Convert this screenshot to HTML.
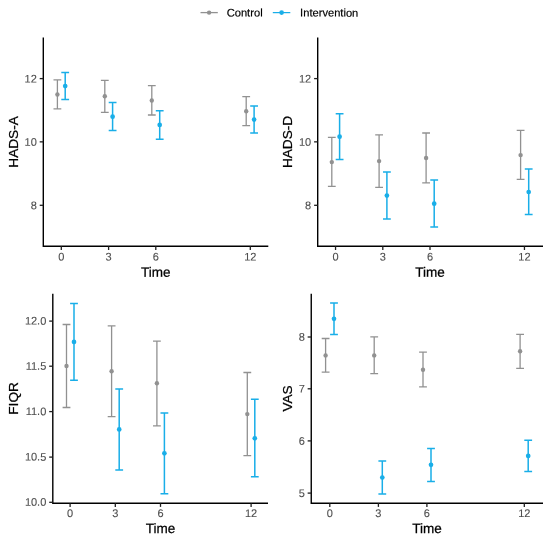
<!DOCTYPE html><html><head><meta charset="utf-8"><title>Figure</title><style>html,body{margin:0;padding:0;background:#fff}svg{display:block}text{font-family:"Liberation Sans",Arial,sans-serif}</style></head><body>
<svg width="550" height="539" viewBox="0 0 550 539">
<rect width="550" height="539" fill="#fff"/>
<line x1="200.5" y1="12.6" x2="217.8" y2="12.6" stroke="#919191" stroke-width="1.3"/><circle cx="209.1" cy="12.6" r="2.2" fill="#919191"/>
<text x="226.70" y="16.55" transform="rotate(0.1 226.70 16.55)" font-size="11.15" fill="#000" stroke="#000" stroke-width="0.18" text-anchor="start">Control</text>
<line x1="272.8" y1="12.6" x2="290.3" y2="12.6" stroke="#19AEE8" stroke-width="1.25"/><circle cx="281.6" cy="12.6" r="2.35" fill="#19AEE8"/>
<text x="300.10" y="16.55" transform="rotate(0.1 300.10 16.55)" font-size="11.15" fill="#000" stroke="#000" stroke-width="0.18" text-anchor="start">Intervention</text>
<g>
<path d="M53.5 79.9H61.3M53.5 108.9H61.3M57.4 79.9V108.9" stroke="#919191" stroke-width="1.3" fill="none"/><circle cx="57.4" cy="94.5" r="2.2" fill="#919191"/>
<path d="M100.9 80.3H108.7M100.9 112.3H108.7M104.8 80.3V112.3" stroke="#919191" stroke-width="1.3" fill="none"/><circle cx="104.8" cy="96.3" r="2.2" fill="#919191"/>
<path d="M147.9 85.7H155.7M147.9 115.0H155.7M151.8 85.7V115.0" stroke="#919191" stroke-width="1.3" fill="none"/><circle cx="151.8" cy="100.5" r="2.2" fill="#919191"/>
<path d="M242.3 96.7H250.1M242.3 125.7H250.1M246.2 96.7V125.7" stroke="#919191" stroke-width="1.3" fill="none"/><circle cx="246.2" cy="111.2" r="2.2" fill="#919191"/>
<path d="M61.3 72.4H69.1M61.3 99.6H69.1M65.2 72.4V99.6" stroke="#19AEE8" stroke-width="1.5" fill="none"/><circle cx="65.2" cy="86.1" r="2.35" fill="#19AEE8"/>
<path d="M108.7 102.5H116.5M108.7 130.5H116.5M112.6 102.5V130.5" stroke="#19AEE8" stroke-width="1.5" fill="none"/><circle cx="112.6" cy="116.7" r="2.35" fill="#19AEE8"/>
<path d="M155.8 110.7H163.6M155.8 139.2H163.6M159.7 110.7V139.2" stroke="#19AEE8" stroke-width="1.5" fill="none"/><circle cx="159.7" cy="124.9" r="2.35" fill="#19AEE8"/>
<path d="M250.2 106.1H258.0M250.2 133.1H258.0M254.1 106.1V133.1" stroke="#19AEE8" stroke-width="1.5" fill="none"/><circle cx="254.1" cy="119.6" r="2.35" fill="#19AEE8"/>
<path d="M43.3 37.6V246.3H268.3" stroke="#000" stroke-width="1.4" fill="none" stroke-linejoin="miter"/>
<line x1="39.70" y1="78.6" x2="43.3" y2="78.6" stroke="#1f1f1f" stroke-width="1.3"/>
<text x="36.80" y="82.60" transform="rotate(0.1 36.80 82.60)" font-size="11" fill="#4d4d4d" stroke="#4d4d4d" stroke-width="0.1" text-anchor="end">12</text>
<line x1="39.70" y1="141.85" x2="43.3" y2="141.85" stroke="#1f1f1f" stroke-width="1.3"/>
<text x="36.80" y="145.85" transform="rotate(0.1 36.80 145.85)" font-size="11" fill="#4d4d4d" stroke="#4d4d4d" stroke-width="0.1" text-anchor="end">10</text>
<line x1="39.70" y1="205.3" x2="43.3" y2="205.3" stroke="#1f1f1f" stroke-width="1.3"/>
<text x="36.80" y="209.30" transform="rotate(0.1 36.80 209.30)" font-size="11" fill="#4d4d4d" stroke="#4d4d4d" stroke-width="0.1" text-anchor="end">8</text>
<line x1="61.3" y1="246.3" x2="61.3" y2="250.0" stroke="#1f1f1f" stroke-width="1.3"/>
<text x="61.30" y="260.50" transform="rotate(0.1 61.30 260.50)" font-size="11" fill="#4d4d4d" stroke="#4d4d4d" stroke-width="0.1" text-anchor="middle">0</text>
<line x1="108.6" y1="246.3" x2="108.6" y2="250.0" stroke="#1f1f1f" stroke-width="1.3"/>
<text x="108.60" y="260.50" transform="rotate(0.1 108.60 260.50)" font-size="11" fill="#4d4d4d" stroke="#4d4d4d" stroke-width="0.1" text-anchor="middle">3</text>
<line x1="155.8" y1="246.3" x2="155.8" y2="250.0" stroke="#1f1f1f" stroke-width="1.3"/>
<text x="155.80" y="260.50" transform="rotate(0.1 155.80 260.50)" font-size="11" fill="#4d4d4d" stroke="#4d4d4d" stroke-width="0.1" text-anchor="middle">6</text>
<line x1="250.3" y1="246.3" x2="250.3" y2="250.0" stroke="#1f1f1f" stroke-width="1.3"/>
<text x="250.30" y="260.50" transform="rotate(0.1 250.30 260.50)" font-size="11" fill="#4d4d4d" stroke="#4d4d4d" stroke-width="0.1" text-anchor="middle">12</text>
<text x="155.85" y="276.70" transform="rotate(0.1 155.85 276.70)" font-size="13.5" fill="#000" stroke="#000" stroke-width="0.25" text-anchor="middle">Time</text>
<text transform="translate(17.70 141.95) rotate(-90)" font-size="13.65" fill="#000" stroke="#000" stroke-width="0.25" text-anchor="middle">HADS-A</text>
</g>
<g>
<path d="M327.9 137.4H335.7M327.9 186.3H335.7M331.8 137.4V186.3" stroke="#919191" stroke-width="1.3" fill="none"/><circle cx="331.8" cy="162.1" r="2.2" fill="#919191"/>
<path d="M375.2 134.8H383.0M375.2 187.3H383.0M379.1 134.8V187.3" stroke="#919191" stroke-width="1.3" fill="none"/><circle cx="379.1" cy="161.1" r="2.2" fill="#919191"/>
<path d="M422.2 133.0H430.0M422.2 182.9H430.0M426.1 133.0V182.9" stroke="#919191" stroke-width="1.3" fill="none"/><circle cx="426.1" cy="158.0" r="2.2" fill="#919191"/>
<path d="M516.7 130.4H524.5M516.7 179.3H524.5M520.6 130.4V179.3" stroke="#919191" stroke-width="1.3" fill="none"/><circle cx="520.6" cy="155.1" r="2.2" fill="#919191"/>
<path d="M335.7 113.8H343.5M335.7 159.5H343.5M339.6 113.8V159.5" stroke="#19AEE8" stroke-width="1.5" fill="none"/><circle cx="339.6" cy="136.7" r="2.35" fill="#19AEE8"/>
<path d="M383.0 172.0H390.8M383.0 219.0H390.8M386.9 172.0V219.0" stroke="#19AEE8" stroke-width="1.5" fill="none"/><circle cx="386.9" cy="195.6" r="2.35" fill="#19AEE8"/>
<path d="M430.3 180.0H438.1M430.3 227.1H438.1M434.2 180.0V227.1" stroke="#19AEE8" stroke-width="1.5" fill="none"/><circle cx="434.2" cy="203.7" r="2.35" fill="#19AEE8"/>
<path d="M524.8 169.1H532.6M524.8 214.6H532.6M528.7 169.1V214.6" stroke="#19AEE8" stroke-width="1.5" fill="none"/><circle cx="528.7" cy="192.0" r="2.35" fill="#19AEE8"/>
<path d="M317.7 37.6V246.3H543.0" stroke="#000" stroke-width="1.4" fill="none" stroke-linejoin="miter"/>
<line x1="314.10" y1="78.6" x2="317.7" y2="78.6" stroke="#1f1f1f" stroke-width="1.3"/>
<text x="311.20" y="82.60" transform="rotate(0.1 311.20 82.60)" font-size="11" fill="#4d4d4d" stroke="#4d4d4d" stroke-width="0.1" text-anchor="end">12</text>
<line x1="314.10" y1="141.85" x2="317.7" y2="141.85" stroke="#1f1f1f" stroke-width="1.3"/>
<text x="311.20" y="145.85" transform="rotate(0.1 311.20 145.85)" font-size="11" fill="#4d4d4d" stroke="#4d4d4d" stroke-width="0.1" text-anchor="end">10</text>
<line x1="314.10" y1="205.3" x2="317.7" y2="205.3" stroke="#1f1f1f" stroke-width="1.3"/>
<text x="311.20" y="209.30" transform="rotate(0.1 311.20 209.30)" font-size="11" fill="#4d4d4d" stroke="#4d4d4d" stroke-width="0.1" text-anchor="end">8</text>
<line x1="335.55" y1="246.3" x2="335.55" y2="250.0" stroke="#1f1f1f" stroke-width="1.3"/>
<text x="335.55" y="260.50" transform="rotate(0.1 335.55 260.50)" font-size="11" fill="#4d4d4d" stroke="#4d4d4d" stroke-width="0.1" text-anchor="middle">0</text>
<line x1="382.8" y1="246.3" x2="382.8" y2="250.0" stroke="#1f1f1f" stroke-width="1.3"/>
<text x="382.80" y="260.50" transform="rotate(0.1 382.80 260.50)" font-size="11" fill="#4d4d4d" stroke="#4d4d4d" stroke-width="0.1" text-anchor="middle">3</text>
<line x1="430.0" y1="246.3" x2="430.0" y2="250.0" stroke="#1f1f1f" stroke-width="1.3"/>
<text x="430.00" y="260.50" transform="rotate(0.1 430.00 260.50)" font-size="11" fill="#4d4d4d" stroke="#4d4d4d" stroke-width="0.1" text-anchor="middle">6</text>
<line x1="524.45" y1="246.3" x2="524.45" y2="250.0" stroke="#1f1f1f" stroke-width="1.3"/>
<text x="524.45" y="260.50" transform="rotate(0.1 524.45 260.50)" font-size="11" fill="#4d4d4d" stroke="#4d4d4d" stroke-width="0.1" text-anchor="middle">12</text>
<text x="430.00" y="276.70" transform="rotate(0.1 430.00 276.70)" font-size="13.5" fill="#000" stroke="#000" stroke-width="0.25" text-anchor="middle">Time</text>
<text transform="translate(291.85 141.95) rotate(-90)" font-size="13.65" fill="#000" stroke="#000" stroke-width="0.25" text-anchor="middle">HADS-D</text>
</g>
<g>
<path d="M62.6 324.5H70.4M62.6 407.5H70.4M66.5 324.5V407.5" stroke="#919191" stroke-width="1.3" fill="none"/><circle cx="66.5" cy="366.0" r="2.2" fill="#919191"/>
<path d="M107.7 325.8H115.5M107.7 416.6H115.5M111.6 325.8V416.6" stroke="#919191" stroke-width="1.3" fill="none"/><circle cx="111.6" cy="371.2" r="2.2" fill="#919191"/>
<path d="M153.0 341.1H160.8M153.0 425.8H160.8M156.9 341.1V425.8" stroke="#919191" stroke-width="1.3" fill="none"/><circle cx="156.9" cy="383.3" r="2.2" fill="#919191"/>
<path d="M243.4 372.5H251.2M243.4 455.7H251.2M247.3 372.5V455.7" stroke="#919191" stroke-width="1.3" fill="none"/><circle cx="247.3" cy="414.1" r="2.2" fill="#919191"/>
<path d="M70.1 303.4H77.9M70.1 380.3H77.9M74.0 303.4V380.3" stroke="#19AEE8" stroke-width="1.5" fill="none"/><circle cx="74.0" cy="341.9" r="2.35" fill="#19AEE8"/>
<path d="M115.3 389.0H123.1M115.3 469.9H123.1M119.2 389.0V469.9" stroke="#19AEE8" stroke-width="1.5" fill="none"/><circle cx="119.2" cy="429.4" r="2.35" fill="#19AEE8"/>
<path d="M160.5 412.9H168.3M160.5 493.8H168.3M164.4 412.9V493.8" stroke="#19AEE8" stroke-width="1.5" fill="none"/><circle cx="164.4" cy="453.3" r="2.35" fill="#19AEE8"/>
<path d="M250.9 399.3H258.7M250.9 476.7H258.7M254.8 399.3V476.7" stroke="#19AEE8" stroke-width="1.5" fill="none"/><circle cx="254.8" cy="438.3" r="2.35" fill="#19AEE8"/>
<path d="M52.8 293.7V503.2H268.0" stroke="#000" stroke-width="1.4" fill="none" stroke-linejoin="miter"/>
<line x1="49.20" y1="321.1" x2="52.8" y2="321.1" stroke="#1f1f1f" stroke-width="1.3"/>
<text x="46.30" y="324.65" transform="rotate(0.1 46.30 324.65)" font-size="11" fill="#4d4d4d" stroke="#4d4d4d" stroke-width="0.1" text-anchor="end">12.0</text>
<line x1="49.20" y1="366.2" x2="52.8" y2="366.2" stroke="#1f1f1f" stroke-width="1.3"/>
<text x="46.30" y="369.75" transform="rotate(0.1 46.30 369.75)" font-size="11" fill="#4d4d4d" stroke="#4d4d4d" stroke-width="0.1" text-anchor="end">11.5</text>
<line x1="49.20" y1="411.6" x2="52.8" y2="411.6" stroke="#1f1f1f" stroke-width="1.3"/>
<text x="46.30" y="415.15" transform="rotate(0.1 46.30 415.15)" font-size="11" fill="#4d4d4d" stroke="#4d4d4d" stroke-width="0.1" text-anchor="end">11.0</text>
<line x1="49.20" y1="457.1" x2="52.8" y2="457.1" stroke="#1f1f1f" stroke-width="1.3"/>
<text x="46.30" y="460.65" transform="rotate(0.1 46.30 460.65)" font-size="11" fill="#4d4d4d" stroke="#4d4d4d" stroke-width="0.1" text-anchor="end">10.5</text>
<line x1="49.20" y1="502.3" x2="52.8" y2="502.3" stroke="#1f1f1f" stroke-width="1.3"/>
<text x="46.30" y="505.85" transform="rotate(0.1 46.30 505.85)" font-size="11" fill="#4d4d4d" stroke="#4d4d4d" stroke-width="0.1" text-anchor="end">10.0</text>
<line x1="70.1" y1="503.2" x2="70.1" y2="506.9" stroke="#1f1f1f" stroke-width="1.3"/>
<text x="70.10" y="517.10" transform="rotate(0.1 70.10 517.10)" font-size="11" fill="#4d4d4d" stroke="#4d4d4d" stroke-width="0.1" text-anchor="middle">0</text>
<line x1="115.3" y1="503.2" x2="115.3" y2="506.9" stroke="#1f1f1f" stroke-width="1.3"/>
<text x="115.30" y="517.10" transform="rotate(0.1 115.30 517.10)" font-size="11" fill="#4d4d4d" stroke="#4d4d4d" stroke-width="0.1" text-anchor="middle">3</text>
<line x1="160.5" y1="503.2" x2="160.5" y2="506.9" stroke="#1f1f1f" stroke-width="1.3"/>
<text x="160.50" y="517.10" transform="rotate(0.1 160.50 517.10)" font-size="11" fill="#4d4d4d" stroke="#4d4d4d" stroke-width="0.1" text-anchor="middle">6</text>
<line x1="251.1" y1="503.2" x2="251.1" y2="506.9" stroke="#1f1f1f" stroke-width="1.3"/>
<text x="251.10" y="517.10" transform="rotate(0.1 251.10 517.10)" font-size="11" fill="#4d4d4d" stroke="#4d4d4d" stroke-width="0.1" text-anchor="middle">12</text>
<text x="160.40" y="533.00" transform="rotate(0.1 160.40 533.00)" font-size="13.5" fill="#000" stroke="#000" stroke-width="0.25" text-anchor="middle">Time</text>
<text transform="translate(17.70 398.45) rotate(-90)" font-size="13.65" fill="#000" stroke="#000" stroke-width="0.25" text-anchor="middle">FIQR</text>
</g>
<g>
<path d="M321.7 338.5H329.5M321.7 372.1H329.5M325.6 338.5V372.1" stroke="#919191" stroke-width="1.3" fill="none"/><circle cx="325.6" cy="355.4" r="2.2" fill="#919191"/>
<path d="M370.3 336.9H378.1M370.3 373.6H378.1M374.2 336.9V373.6" stroke="#919191" stroke-width="1.3" fill="none"/><circle cx="374.2" cy="355.4" r="2.2" fill="#919191"/>
<path d="M419.1 352.2H426.9M419.1 386.8H426.9M423.0 352.2V386.8" stroke="#919191" stroke-width="1.3" fill="none"/><circle cx="423.0" cy="369.7" r="2.2" fill="#919191"/>
<path d="M516.2 334.3H524.0M516.2 368.4H524.0M520.1 334.3V368.4" stroke="#919191" stroke-width="1.3" fill="none"/><circle cx="520.1" cy="351.2" r="2.2" fill="#919191"/>
<path d="M330.1 303.1H337.9M330.1 334.6H337.9M334.0 303.1V334.6" stroke="#19AEE8" stroke-width="1.5" fill="none"/><circle cx="334.0" cy="318.8" r="2.35" fill="#19AEE8"/>
<path d="M378.4 461.1H386.2M378.4 493.9H386.2M382.3 461.1V493.9" stroke="#19AEE8" stroke-width="1.5" fill="none"/><circle cx="382.3" cy="477.5" r="2.35" fill="#19AEE8"/>
<path d="M427.1 448.4H434.9M427.1 481.4H434.9M431.0 448.4V481.4" stroke="#19AEE8" stroke-width="1.5" fill="none"/><circle cx="431.0" cy="464.8" r="2.35" fill="#19AEE8"/>
<path d="M524.3 440.3H532.1M524.3 471.5H532.1M528.2 440.3V471.5" stroke="#19AEE8" stroke-width="1.5" fill="none"/><circle cx="528.2" cy="455.9" r="2.35" fill="#19AEE8"/>
<path d="M311.25 293.7V503.2H543.0" stroke="#000" stroke-width="1.4" fill="none" stroke-linejoin="miter"/>
<line x1="307.65" y1="337.0" x2="311.25" y2="337.0" stroke="#1f1f1f" stroke-width="1.3"/>
<text x="304.75" y="340.80" transform="rotate(0.1 304.75 340.80)" font-size="11" fill="#4d4d4d" stroke="#4d4d4d" stroke-width="0.1" text-anchor="end">8</text>
<line x1="307.65" y1="388.8" x2="311.25" y2="388.8" stroke="#1f1f1f" stroke-width="1.3"/>
<text x="304.75" y="392.60" transform="rotate(0.1 304.75 392.60)" font-size="11" fill="#4d4d4d" stroke="#4d4d4d" stroke-width="0.1" text-anchor="end">7</text>
<line x1="307.65" y1="440.9" x2="311.25" y2="440.9" stroke="#1f1f1f" stroke-width="1.3"/>
<text x="304.75" y="444.70" transform="rotate(0.1 304.75 444.70)" font-size="11" fill="#4d4d4d" stroke="#4d4d4d" stroke-width="0.1" text-anchor="end">6</text>
<line x1="307.65" y1="493.1" x2="311.25" y2="493.1" stroke="#1f1f1f" stroke-width="1.3"/>
<text x="304.75" y="496.90" transform="rotate(0.1 304.75 496.90)" font-size="11" fill="#4d4d4d" stroke="#4d4d4d" stroke-width="0.1" text-anchor="end">5</text>
<line x1="329.8" y1="503.2" x2="329.8" y2="506.9" stroke="#1f1f1f" stroke-width="1.3"/>
<text x="329.80" y="517.10" transform="rotate(0.1 329.80 517.10)" font-size="11" fill="#4d4d4d" stroke="#4d4d4d" stroke-width="0.1" text-anchor="middle">0</text>
<line x1="378.4" y1="503.2" x2="378.4" y2="506.9" stroke="#1f1f1f" stroke-width="1.3"/>
<text x="378.40" y="517.10" transform="rotate(0.1 378.40 517.10)" font-size="11" fill="#4d4d4d" stroke="#4d4d4d" stroke-width="0.1" text-anchor="middle">3</text>
<line x1="426.9" y1="503.2" x2="426.9" y2="506.9" stroke="#1f1f1f" stroke-width="1.3"/>
<text x="426.90" y="517.10" transform="rotate(0.1 426.90 517.10)" font-size="11" fill="#4d4d4d" stroke="#4d4d4d" stroke-width="0.1" text-anchor="middle">6</text>
<line x1="524.3" y1="503.2" x2="524.3" y2="506.9" stroke="#1f1f1f" stroke-width="1.3"/>
<text x="524.30" y="517.10" transform="rotate(0.1 524.30 517.10)" font-size="11" fill="#4d4d4d" stroke="#4d4d4d" stroke-width="0.1" text-anchor="middle">12</text>
<text x="426.95" y="533.00" transform="rotate(0.1 426.95 533.00)" font-size="13.5" fill="#000" stroke="#000" stroke-width="0.25" text-anchor="middle">Time</text>
<text transform="translate(291.90 398.45) rotate(-90)" font-size="13.65" fill="#000" stroke="#000" stroke-width="0.25" text-anchor="middle">VAS</text>
</g>
</svg></body></html>
